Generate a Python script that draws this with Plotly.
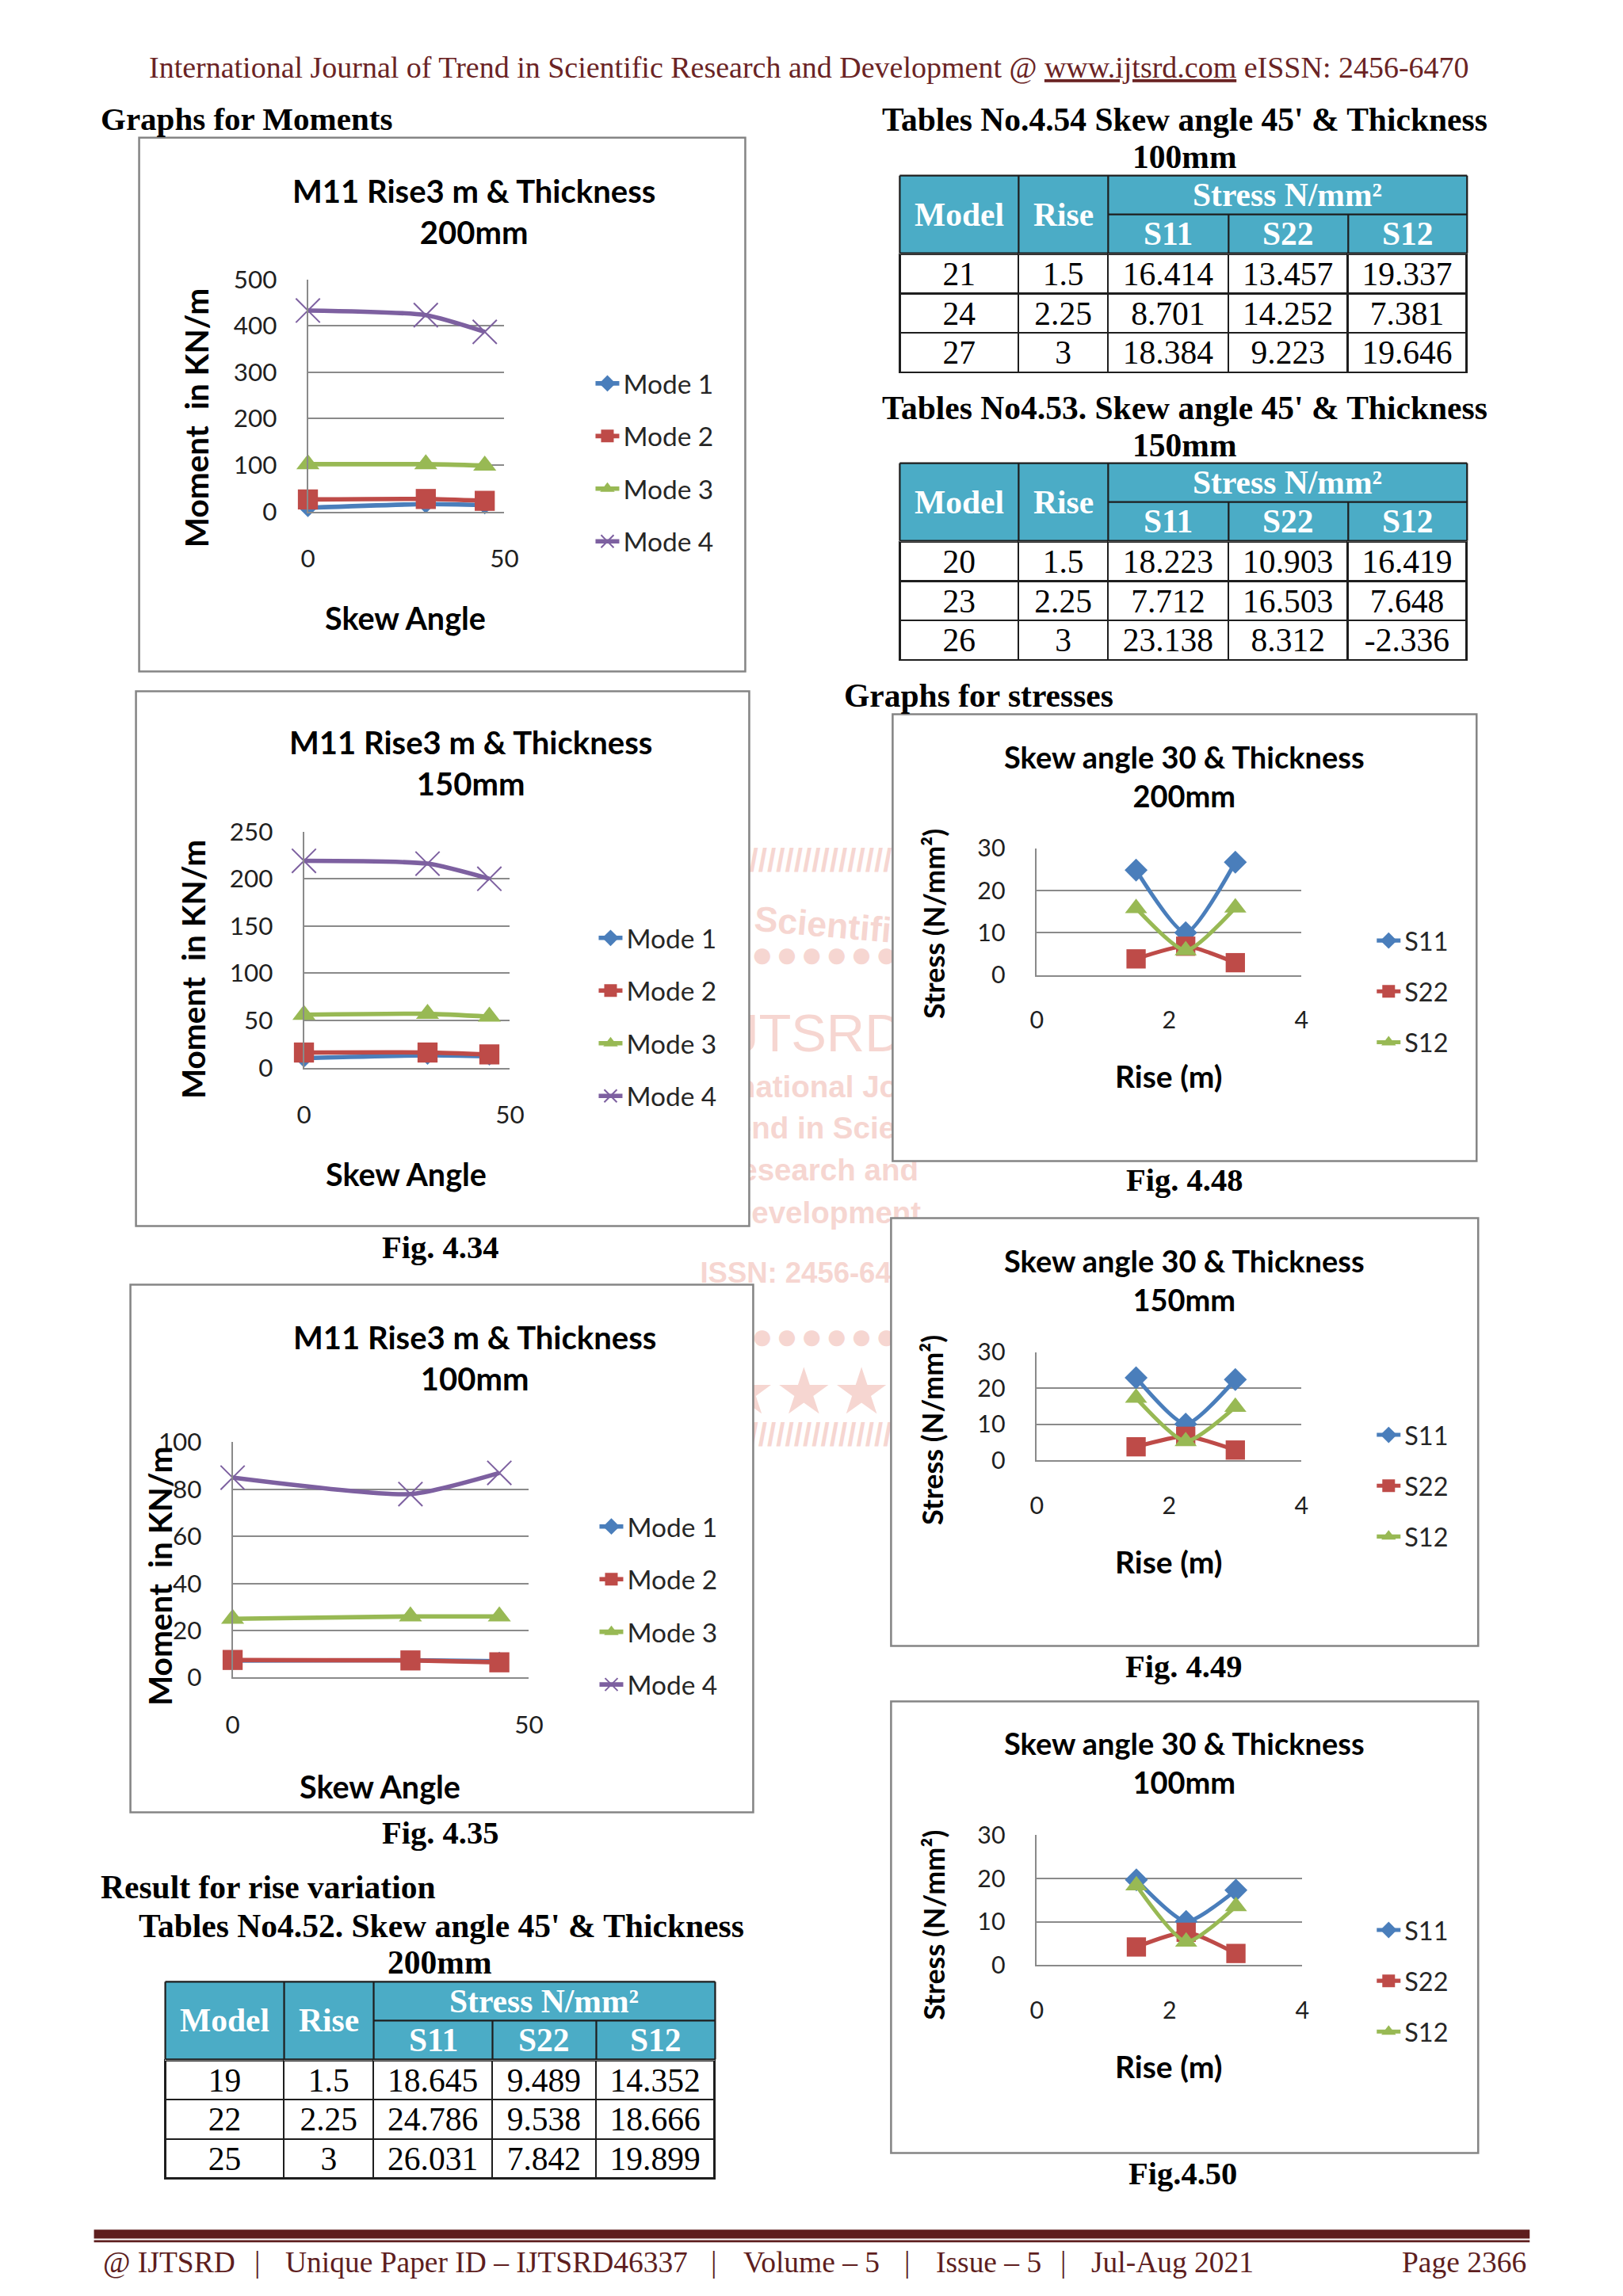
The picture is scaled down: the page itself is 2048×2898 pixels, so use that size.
import plotly.graph_objects as go

W, H = 2048, 2898

# The photographed page shows the figure scaled by ~0.987 and offset;
# positions below are target positions in the final picture, mapped here.
S = 0.987
OX, OY = 8.4, 20.3


def px(x):
    return (x - OX) / S


def py(y):
    return (y - OY) / S


def fx(x):
    return px(x) / W


def fy(y):
    return 1 - py(y) / H


def fs(v):
    return v / S


def fi(v):
    return int(round(v / S))


SANS = "Lato, 'Open Sans', sans-serif"
SERIF = "'Liberation Serif', 'Times New Roman', serif"
WMF = "'Liberation Sans', 'DejaVu Sans', Arial, sans-serif"
DOTF = "'DejaVu Sans', sans-serif"

BLUE = "#4A7EBB"
RED = "#BE4B48"
GREEN = "#98B954"
PURPLE = "#7D60A0"
GRID = "#8A8A8A"
HEAD_FILL = "#4BACC6"
MAROON = "#6B2424"
FOOT = "#5E1E1E"

# ---------------- data: moment charts (x = skew angle) ----------------
skew_angle = [0, 30, 45]
mode_names = ["Mode 1", "Mode 2", "Mode 3", "Mode 4"]

m200_mode1 = [8, 16, 14]
m200_mode2 = [26, 27, 23]
m200_mode3 = [102, 102, 99]
m200_mode4 = [433, 423, 387]

m150_mode1 = [10, 13, 12]
m150_mode2 = [16, 16, 14]
m150_mode3 = [56, 57, 54]
m150_mode4 = [219, 216, 200]

m100_mode1 = [7.2, 7.4, 7.0]
m100_mode2 = [7.5, 7.3, 6.5]
m100_mode3 = [25, 26, 26]
m100_mode4 = [85, 78, 87]

moment_titles = ["M11 Rise3 m & Thickness<br>200mm",
                 "M11 Rise3 m & Thickness<br>150mm",
                 "M11 Rise3 m & Thickness<br>100mm"]
moment_yticks = [[0, 100, 200, 300, 400, 500],
                 [0, 50, 100, 150, 200, 250],
                 [0, 20, 40, 60, 80, 100]]
moment_xticks = [0, 50]

# ---------------- data: stress charts (x = rise) ----------------
rise_m = [1.5, 2.25, 3]
stress_names = ["S11", "S22", "S12"]

s200_s11 = [24.8, 10.0, 26.7]
s200_s22 = [3.8, 6.8, 2.9]
s200_s12 = [15.8, 5.8, 15.9]

s150_s11 = [22.9, 10.1, 22.4]
s150_s22 = [3.8, 6.7, 2.9]
s150_s12 = [17.3, 5.3, 14.8]

s100_s11 = [19.7, 10.1, 17.3]
s100_s22 = [4.2, 7.6, 2.7]
s100_s12 = [18.4, 5.4, 13.6]

stress_titles = ["Skew angle 30 & Thickness<br>200mm",
                 "Skew angle 30 & Thickness<br>150mm",
                 "Skew angle 30 & Thickness<br>100mm"]
stress_yticks = [0, 10, 20, 30]
stress_xticks = [0, 2, 4]

# ---------------- data: tables ----------------
table_head_top = ["Model", "Rise", "Stress N/mm²"]
table_head_sub = ["S11", "S22", "S12"]

t454_model = ["21", "24", "27"]
t454_rise = ["1.5", "2.25", "3"]
t454_s11 = ["16.414", "8.701", "18.384"]
t454_s22 = ["13.457", "14.252", "9.223"]
t454_s12 = ["19.337", "7.381", "19.646"]

t453_model = ["20", "23", "26"]
t453_rise = ["1.5", "2.25", "3"]
t453_s11 = ["18.223", "7.712", "23.138"]
t453_s22 = ["10.903", "16.503", "8.312"]
t453_s12 = ["16.419", "7.648", "-2.336"]

t452_model = ["19", "22", "25"]
t452_rise = ["1.5", "2.25", "3"]
t452_s11 = ["18.645", "24.786", "26.031"]
t452_s22 = ["9.489", "9.538", "7.842"]
t452_s12 = ["14.352", "18.666", "19.899"]

# ---------------- layout geometry (target px on the page) ----------------
moment_geo = [
    dict(frame=(175, 174, 940, 848), xdom=(388, 636), ydom=(353, 646),
         title=(598, 267), ytitle=(247, 528), xtitle=(511, 780), legend=(792, 483)),
    dict(frame=(171, 873, 945, 1548), xdom=(383, 643), ydom=(1050, 1348),
         title=(594, 963), ytitle=(243, 1224), xtitle=(512, 1482), legend=(796, 1183)),
    dict(frame=(164, 1622, 950, 2288), xdom=(293, 667), ydom=(1821, 2118),
         title=(599, 1714), ytitle=(201, 1990), xtitle=(479, 2255), legend=(797, 1926)),
]
stress_geo = [
    dict(frame=(1126, 902, 1863, 1466), xdom=(1308, 1642), ydom=(1071, 1231),
         title=(1494, 980), ytitle=(1178, 1166), xtitle=(1474, 1358), legend=(1778, 1187)),
    dict(frame=(1124, 1538, 1865, 2078), xdom=(1308, 1642), ydom=(1707, 1844),
         title=(1494, 1616), ytitle=(1176, 1805), xtitle=(1474, 1972), legend=(1778, 1811)),
    dict(frame=(1124, 2148, 1865, 2718), xdom=(1308, 1643), ydom=(2317, 2481),
         title=(1494, 2226), ytitle=(1178, 2430), xtitle=(1474, 2609), legend=(1778, 2436)),
]

fig = go.Figure()
shapes = []
annotations = []


def text(s, x, y, size, family, color="#000000", xanchor="center", angle=0):
    annotations.append(dict(text=s, x=fx(x), y=fy(y), xref="paper", yref="paper",
                            showarrow=False, xanchor=xanchor, yanchor="middle",
                            textangle=angle,
                            font=dict(family=family, size=fs(size), color=color)))


# ---------------- watermark (under chart frames) ----------------
WM_COL = "#F6D6D1"
wm_items = [
    ("////////////////////", 900, 1083, 40, "bold", 0, WMF),
    ("Scientific", 952, 1155, 44, "bold", 5, WMF),
    ("● ● ● ● ● ● ● ● ● ●", 950, 1203, 26, "normal", 0, DOTF),
    ("IJTSRD", 905, 1298, 66, "normal", 0, WMF),
    ("International Journal", 846, 1368, 38, "bold", 0, WMF),
    ("Trend in Scientific", 890, 1420, 38, "bold", 0, WMF),
    ("Research and", 906, 1473, 38, "bold", 0, WMF),
    ("Development", 920, 1527, 38, "bold", 0, WMF),
    ("ISSN: 2456-6470", 883, 1604, 36, "bold", 0, WMF),
    ("● ● ● ● ● ● ● ● ● ●", 950, 1685, 26, "normal", 0, DOTF),
    ("★★★★", 905, 1750, 80, "normal", 0, DOTF),
    ("////////////////////", 900, 1808, 40, "bold", 0, WMF),
]
for s, x0, yc, sz, wt, ang, fam in wm_items:
    shapes.append(dict(type="rect", xref="paper", yref="paper", layer="below",
                       x0=fx(x0 - 3), x1=fx(x0 + 700), y0=fy(yc + 50), y1=fy(yc - 50),
                       line=dict(width=0), fillcolor="rgba(0,0,0,0)",
                       label=dict(text=s, textposition="middle left", textangle=ang,
                                  padding=0,
                                  font=dict(family=fam, size=fs(sz), color=WM_COL, weight=wt))))

# ---------------- chart frames ----------------
for g in moment_geo + stress_geo:
    x0, y0, x1, y1 = g["frame"]
    shapes.append(dict(type="rect", xref="paper", yref="paper", layer="below",
                       x0=fx(x0), x1=fx(x1), y0=fy(y1), y1=fy(y0),
                       line=dict(color="#858585", width=fs(2.5)), fillcolor="white"))

layout_axes = {}
legends = {}


def axis_pair(idx, g, xrange, xticks, yrange, yticks, tickfont, xstand, ystand):
    xid = "x" if idx == 1 else f"x{idx}"
    yid = "y" if idx == 1 else f"y{idx}"
    xk = "xaxis" if idx == 1 else f"xaxis{idx}"
    yk = "yaxis" if idx == 1 else f"yaxis{idx}"
    layout_axes[xk] = dict(domain=[fx(g["xdom"][0]), fx(g["xdom"][1])], range=xrange,
                           tickvals=xticks, showgrid=False, zeroline=False, showline=True,
                           linecolor=GRID, linewidth=fs(1.5), ticks="", anchor=yid,
                           tickfont=tickfont, ticklabelstandoff=fi(xstand), fixedrange=True)
    layout_axes[yk] = dict(domain=[fy(g["ydom"][1]), fy(g["ydom"][0])], range=yrange,
                           tickvals=yticks, showgrid=True, gridcolor=GRID, gridwidth=fs(1.5),
                           zeroline=False, showline=True, linecolor=GRID, linewidth=fs(1.5),
                           ticks="", anchor=xid, tickfont=tickfont,
                           ticklabelstandoff=fi(ystand), fixedrange=True)
    return xid, yid


def legend_for(idx, g, size, gap):
    key = "legend" if idx == 1 else f"legend{idx}"
    lx, ly = g["legend"]
    legends[key] = dict(x=fx(lx - 46), y=fy(ly - 27), xanchor="left", yanchor="top",
                        bgcolor="rgba(0,0,0,0)", borderwidth=0, tracegroupgap=fi(gap),
                        font=dict(family=SANS, size=fs(size), color="#262626"))
    return key


moment_series = [
    [m200_mode1, m200_mode2, m200_mode3, m200_mode4],
    [m150_mode1, m150_mode2, m150_mode3, m150_mode4],
    [m100_mode1, m100_mode2, m100_mode3, m100_mode4],
]
mode_style = [
    dict(color=BLUE, marker=dict(symbol="diamond", size=fs(18), color=BLUE)),
    dict(color=RED, marker=dict(symbol="square", size=fs(25), color=RED)),
    dict(color=GREEN, marker=dict(symbol="triangle-up", size=fs(25), color=GREEN)),
    dict(color=PURPLE, marker=dict(symbol="x-thin", size=fs(30), color=PURPLE,
                                   line=dict(color=PURPLE, width=2))),
]

tick_m = dict(family=SANS, size=fs(31), color="#1F1F1F")
tick_s = dict(family=SANS, size=fs(30), color="#1F1F1F")

idx = 0
for c, g in enumerate(moment_geo):
    idx += 1
    yt = moment_yticks[c]
    xid, yid = axis_pair(idx, g, [0, 50], moment_xticks, [0, yt[-1]], yt, tick_m, 31, 31)
    lg = legend_for(idx, g, 33, 20)
    for i, vals in enumerate(moment_series[c]):
        st = mode_style[i]
        fig.add_trace(go.Scatter(x=skew_angle, y=vals, name=mode_names[i], mode="lines+markers",
                                 line=dict(color=st["color"], width=fs(5.5), shape="spline", smoothing=0.6),
                                 marker=st["marker"], xaxis=xid, yaxis=yid, cliponaxis=False,
                                 legend=lg, legendgroup=f"{lg}_{i}"))
    tx, ty = g["title"]
    text("<b>" + moment_titles[c] + "</b>", tx, ty, 39.5, SANS, "#000000")
    text("<b>Moment  in KN/m</b>", g["ytitle"][0], g["ytitle"][1], 40, SANS, "#000000", angle=-90)
    text("<b>Skew Angle</b>", g["xtitle"][0], g["xtitle"][1], 39, SANS, "#000000")

stress_series = [
    [s200_s11, s200_s22, s200_s12],
    [s150_s11, s150_s22, s150_s12],
    [s100_s11, s100_s22, s100_s12],
]
stress_style = [
    dict(color=BLUE, marker=dict(symbol="diamond", size=fs(22), color=BLUE)),
    dict(color=RED, marker=dict(symbol="square", size=fs(24), color=RED)),
    dict(color=GREEN, marker=dict(symbol="triangle-up", size=fs(24), color=GREEN)),
]
for c, g in enumerate(stress_geo):
    idx += 1
    xid, yid = axis_pair(idx, g, [0, 4], stress_xticks, [0, 30], stress_yticks, tick_s, 29, 32)
    lg = legend_for(idx, g, 32, 19)
    for i, vals in enumerate(stress_series[c]):
        st = stress_style[i]
        fig.add_trace(go.Scatter(x=rise_m, y=vals, name=stress_names[i], mode="lines+markers",
                                 line=dict(color=st["color"], width=fs(5), shape="spline", smoothing=0.6),
                                 marker=st["marker"], xaxis=xid, yaxis=yid, cliponaxis=False,
                                 legend=lg, legendgroup=f"{lg}_{i}"))
    tx, ty = g["title"]
    text("<b>" + stress_titles[c] + "</b>", tx, ty, 37.5, SANS, "#000000")
    text("<b>Stress (N/mm²)</b>", g["ytitle"][0], g["ytitle"][1], 35.5, SANS, "#000000", angle=-90)
    text("<b>Rise (m)</b>", g["xtitle"][0], g["xtitle"][1], 38.5, SANS, "#000000")

# ---------------- tables ----------------
ROW_H = 49
LINE_C = "#1E1E1E"
LW = fs(2.2)
TABLE_TOP_GAP = 15  # plotly Table leaves this many px above its first body row


def hline(x0, x1, y):
    shapes.append(dict(type="line", xref="paper", yref="paper", layer="above",
                       x0=fx(x0), x1=fx(x1), y0=fy(y), y1=fy(y),
                       line=dict(color=LINE_C, width=LW)))


def vline(x, y0, y1):
    shapes.append(dict(type="line", xref="paper", yref="paper", layer="above",
                       x0=fx(x), x1=fx(x), y0=fy(y0), y1=fy(y1),
                       line=dict(color=LINE_C, width=LW)))


def add_table(edges, y_top, model, rise, s11, s22, s12):
    widths = [edges[i + 1] - edges[i] for i in range(5)]
    body_top = y_top + 2 * ROW_H
    dom_top = 1 - (py(body_top) - TABLE_TOP_GAP) / H
    dom_bot = fy(body_top + 3 * ROW_H + 20)
    fig.add_trace(go.Table(
        domain=dict(x=[fx(edges[0]), fx(edges[-1])], y=[dom_bot, dom_top]),
        columnwidth=widths,
        header=dict(values=[], height=0),
        cells=dict(values=[model, rise, s11, s22, s12], fill_color="white",
                   line=dict(color=LINE_C, width=LW), height=fs(ROW_H), align="center",
                   font=dict(family=SERIF, size=fs(41), color="black")),
    ))
    # two-row header with merged cells
    shapes.append(dict(type="rect", xref="paper", yref="paper", layer="above",
                       x0=fx(edges[0]), x1=fx(edges[-1]), y0=fy(body_top), y1=fy(y_top),
                       line=dict(width=0), fillcolor=HEAD_FILL))
    hline(edges[0], edges[-1], y_top)
    hline(edges[2], edges[-1], y_top + ROW_H)
    hline(edges[0], edges[-1], body_top)
    vline(edges[0], y_top, body_top)
    vline(edges[-1], y_top, body_top)
    vline(edges[1], y_top, body_top)
    vline(edges[2], y_top, body_top)
    vline(edges[3], y_top + ROW_H, body_top)
    vline(edges[4], y_top + ROW_H, body_top)
    hfont = dict(family=SERIF, size=fs(41), color="white")
    merged = [(0, 1, 2), (1, 2, 2), (2, 5, 1)]
    for label, (a, b, rows) in zip(table_head_top, merged):
        annotations.append(dict(text="<b>" + label + "</b>", x=fx((edges[a] + edges[b]) / 2),
                                y=fy(y_top + rows * ROW_H / 2), xref="paper", yref="paper",
                                showarrow=False, xanchor="center", yanchor="middle", font=hfont))
    for k, label in enumerate(table_head_sub):
        annotations.append(dict(text="<b>" + label + "</b>", x=fx((edges[2 + k] + edges[3 + k]) / 2),
                                y=fy(y_top + 1.5 * ROW_H), xref="paper", yref="paper",
                                showarrow=False, xanchor="center", yanchor="middle", font=hfont))


top_edges = [1135, 1285, 1398, 1550, 1701, 1851]
bot_edges = [208, 358, 471, 621, 752, 902]
add_table(top_edges, 222, t454_model, t454_rise, t454_s11, t454_s22, t454_s12)
add_table(top_edges, 585, t453_model, t453_rise, t453_s11, t453_s22, t453_s12)
add_table(bot_edges, 2502, t452_model, t452_rise, t452_s11, t452_s22, t452_s12)

# ---------------- page text ----------------
text("International Journal of Trend in Scientific Research and Development @ "
     "<u>www.ijtsrd.com</u> eISSN: 2456-6470", 1021, 85, 37.5, SERIF, MAROON)
text("<b>Graphs for Moments</b>", 124, 150, 40.5, SERIF, xanchor="left")
text("<b>Tables No.4.54 Skew angle 45' &amp; Thickness</b>", 1495, 151, 41, SERIF)
text("<b>100mm</b>", 1495, 198, 41, SERIF)
text("<b>Tables No4.53. Skew angle 45' &amp; Thickness</b>", 1495, 515, 41, SERIF)
text("<b>150mm</b>", 1495, 562, 41, SERIF)
text("<b>Graphs for stresses</b>", 1063, 878, 41, SERIF, xanchor="left")
text("<b>Fig. 4.48</b>", 1494, 1490, 40, SERIF)
text("<b>Fig. 4.49</b>", 1493, 2104, 40, SERIF)
text("<b>Fig.4.50</b>", 1492, 2744, 40, SERIF)
text("<b>Fig. 4.34</b>", 555, 1575, 40, SERIF)
text("<b>Fig. 4.35</b>", 555, 2314, 40, SERIF)
text("<b>Result for rise variation</b>", 124, 2383, 41, SERIF, xanchor="left")
text("<b>Tables No4.52. Skew angle 45' &amp; Thickness</b>", 557, 2432, 41, SERIF)
text("<b>200mm</b>", 555, 2478, 41, SERIF)

# footer
shapes.append(dict(type="line", xref="paper", yref="paper", x0=fx(118), x1=fx(1930),
                   y0=fy(2820.5), y1=fy(2820.5), line=dict(color=FOOT, width=fs(11))))
shapes.append(dict(type="line", xref="paper", yref="paper", x0=fx(118), x1=fx(1930),
                   y0=fy(2829.5), y1=fy(2829.5), line=dict(color=FOOT, width=fs(2.5))))
footer_parts = [("@ IJTSRD", 127, "left"), ("|", 324, "center"),
                ("Unique Paper ID – IJTSRD46337", 357, "left"), ("|", 901, "center"),
                ("Volume – 5", 936, "left"), ("|", 1145, "center"),
                ("Issue – 5", 1179, "left"), ("|", 1342, "center"),
                ("Jul-Aug 2021", 1375, "left"), ("Page 2366", 1767, "left")]
for s, x, anc in footer_parts:
    text(s, x, 2856, 37, SERIF, FOOT, xanchor=anc)

fig.update_layout(width=W, height=H, margin=dict(l=0, r=0, t=0, b=0),
                  paper_bgcolor="white", plot_bgcolor="rgba(0,0,0,0)",
                  showlegend=True, shapes=shapes, annotations=annotations,
                  **layout_axes, **legends)

page_fix = ("document.documentElement.style.margin='0';"
            "document.body.style.margin='0';document.body.style.padding='0';"
            "document.body.style.overflow='hidden';"
            "var gd=document.getElementById('{plot_id}');gd.style.display='block';"
            "if(gd.parentElement){gd.parentElement.style.lineHeight='0';}")
fig.write_html("out.html", post_script=page_fix, config={"displayModeBar": False})
